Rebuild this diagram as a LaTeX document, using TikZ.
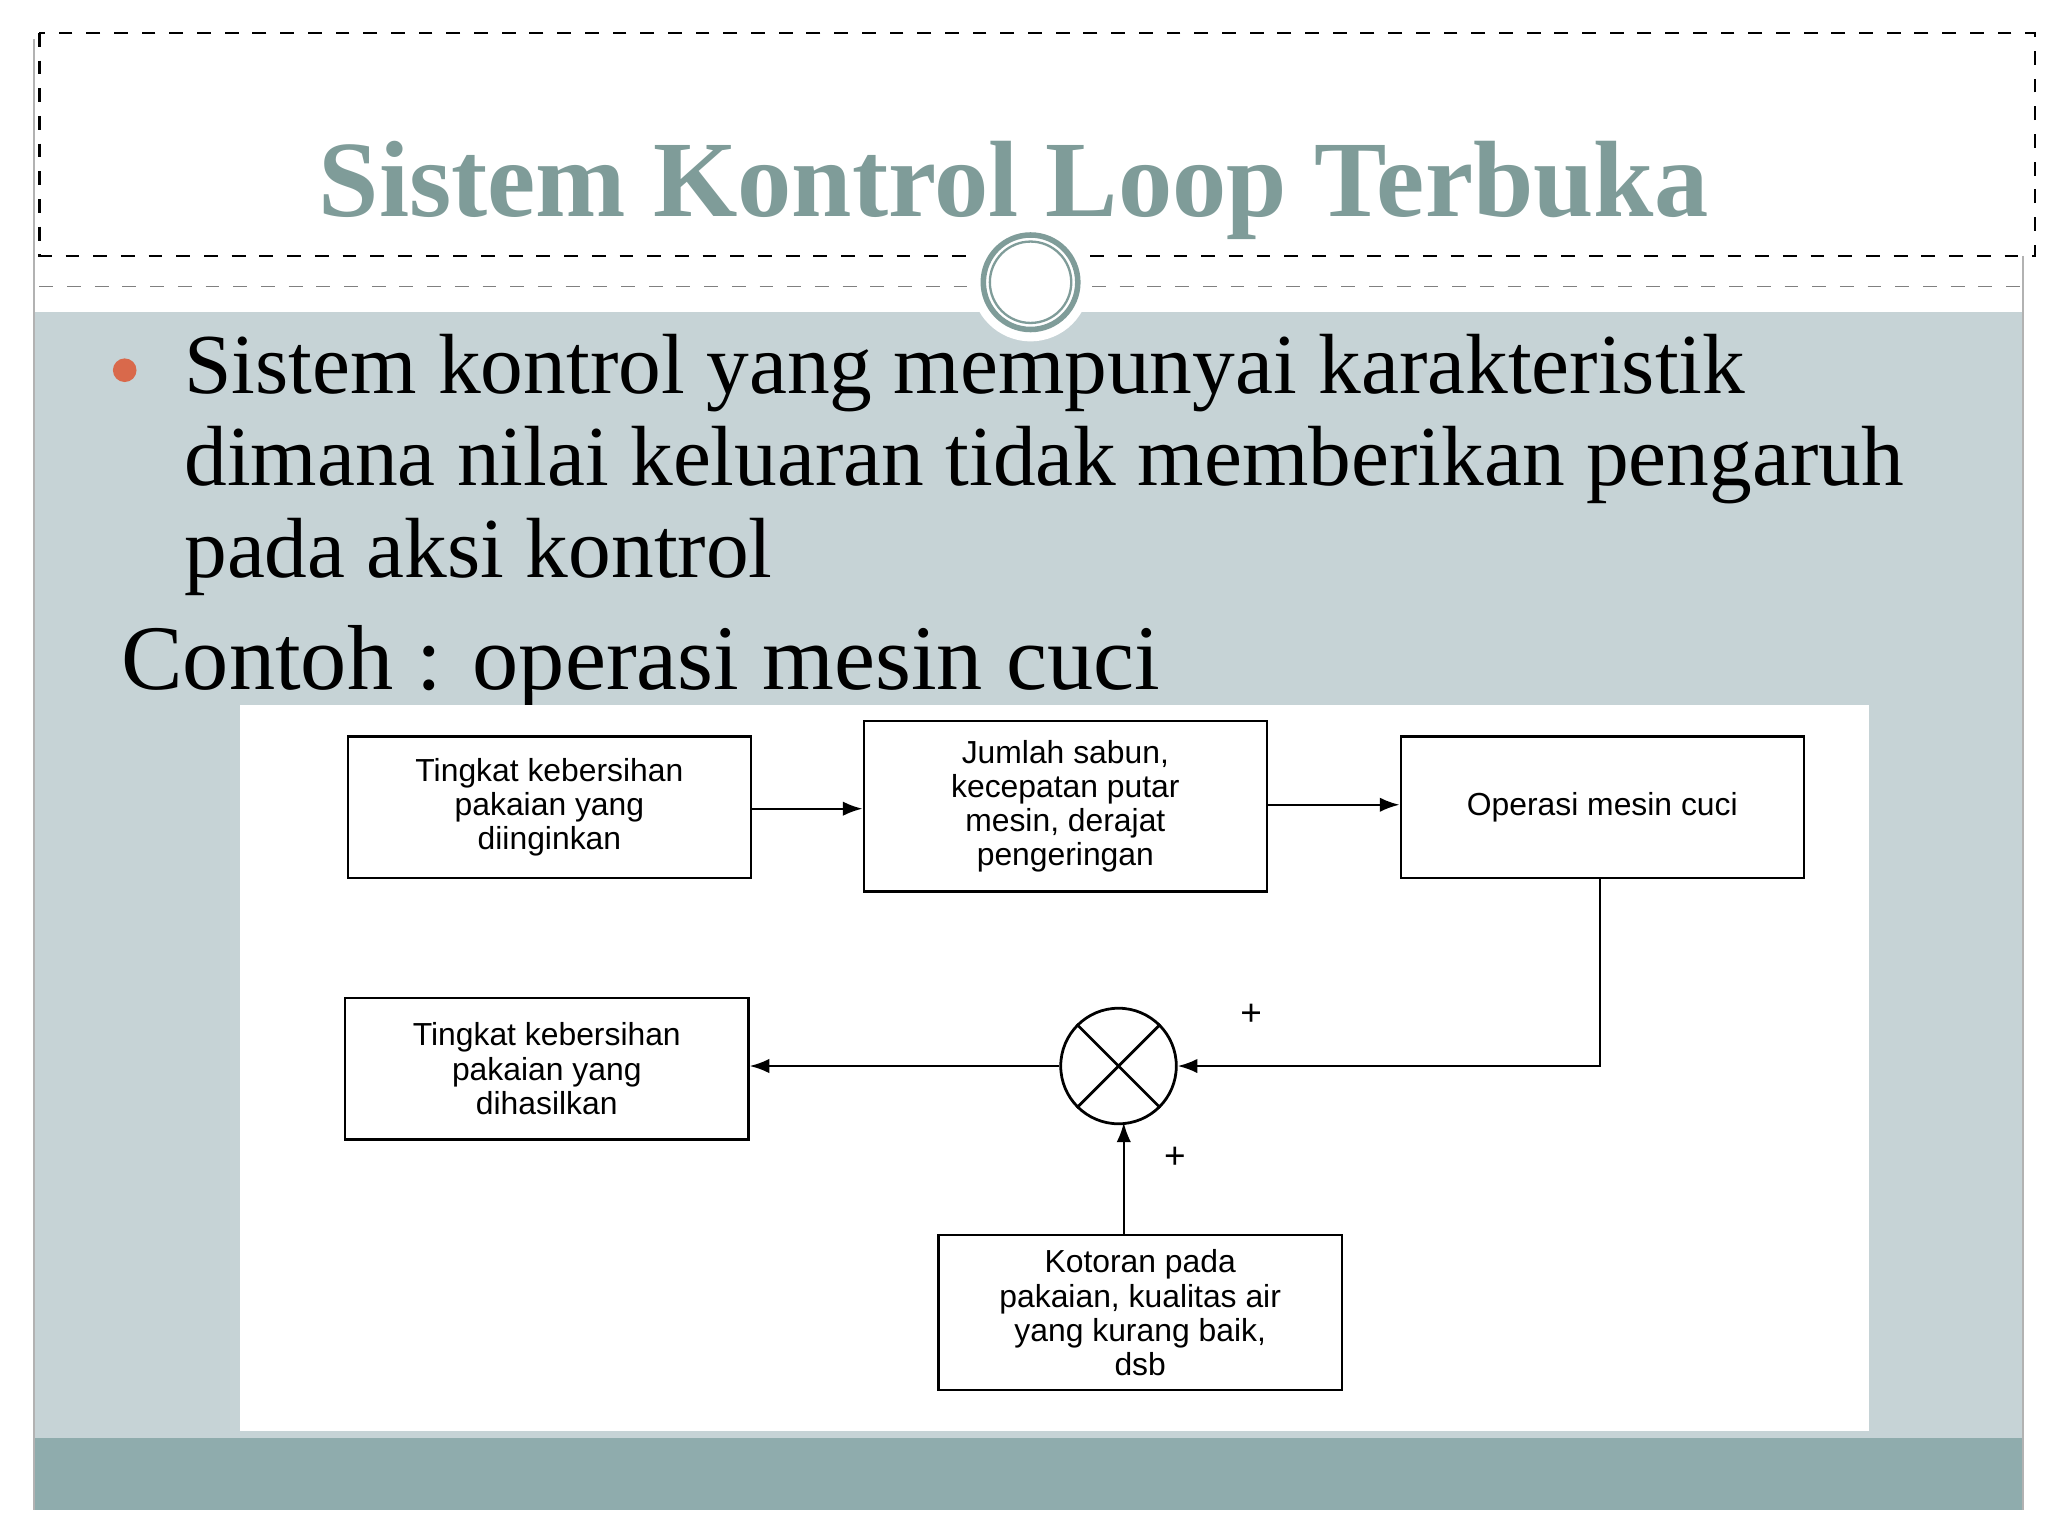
\documentclass[tikz,border=0pt]{standalone}
\usepackage{fontspec}
\setmainfont{Liberation Serif}
\newfontfamily\diag{Liberation Sans}
\usetikzlibrary{arrows.meta}
\definecolor{bodybg}{HTML}{C6D3D6}
\definecolor{band}{HTML}{8FACAD}
\definecolor{titlec}{HTML}{7F9C99}
\definecolor{bul}{HTML}{D9694B}
\tikzset{blk/.style={draw,line width=0.5pt,minimum width=3.07cm,align=center,font=\diag\fontsize{6.9}{7.4}\selectfont,inner sep=1pt},
arr/.style={-{Latex[length=1.5mm,width=1.1mm]},line width=0.5pt},
body/.style={anchor=base west,font=\fontsize{18.5}{20}\selectfont}}
\begin{document}
\begin{tikzpicture}[x=0.01cm,y=-0.01cm]
\useasboundingbox (0,0) rectangle (1560,1170);
\fill[white] (0,0) rectangle (1560,1170);
\fill[bodybg] (26,238) rectangle (1541,1095);
\fill[band] (26,1095) rectangle (1541,1150);
\draw[gray!60,line width=0.4pt] (26,30) -- (26,1150) (1541,195) -- (1541,1150);
\draw[dashed,line width=0.5pt] (30,25) rectangle (1550,195);
\draw[dashed,gray,line width=0.3pt] (30,218) -- (1540,218);
\fill[white] (785,215) circle (45);
\draw[titlec,line width=1.2pt] (785,215) circle (36);
\draw[titlec,line width=0.5pt] (785,215) circle (31);
\node[font=\bfseries\fontsize{23.5}{25}\selectfont,text=titlec] (title) at (772,145) {Sistem Kontrol Loop Terbuka};
\fill[bul] (95,282) circle (9);
\node[body] (l1) at (128,300) {Sistem kontrol yang mempunyai karakteristik};
\node[body] (l2) at (128,370) {dimana nilai keluaran tidak memberikan pengaruh};
\node[body] (l3) at (128,440) {pada aksi kontrol};
\node[body,font=\fontsize{20}{22}\selectfont] (l4) at (80,525) {Contoh : operasi mesin cuci};
\fill[white] (183,537) rectangle (1424,1090);
\node[blk,minimum height=1.08cm] (b1) at (418.5,615) {Tingkat kebersihan\\pakaian yang\\diinginkan};
\node[blk,minimum height=1.30cm] (b2) at (811.5,614) {Jumlah sabun,\\kecepatan putar\\mesin, derajat\\pengeringan};
\node[blk,minimum height=1.08cm] (b3) at (1220.5,615) {Operasi mesin cuci};
\node[blk,minimum height=1.08cm] (b4) at (416.5,814) {Tingkat kebersihan\\pakaian yang\\dihasilkan};
\node[blk,minimum height=1.18cm] (b5) at (868.5,1000) {Kotoran pada\\pakaian, kualitas air\\yang kurang baik,\\dsb};
\node[draw,circle,minimum size=0.88cm,inner sep=0,line width=0.6pt] (s) at (852,812) {};
\draw[line width=0.6pt] (s.north west) -- (s.south east) (s.north east) -- (s.south west);
\coordinate (c) at (1219,812);
\draw[arr] (b1.east |- 0,616) -- (b2.west |- 0,616);
\draw[arr] (b2.east |- 0,613) -- (b3.west |- 0,613);
\draw[arr] (1219,669) -- (c) -- (s.east);
\draw[arr] (s.west) -- (b4.east |- s.west);
\draw[arr] (856,941) -- (856,855);
\node[font=\diag\fontsize{8}{8}\selectfont] (p1) at (953,773) {+};
\node[font=\diag\fontsize{8}{8}\selectfont] (p2) at (895,882) {+};
\end{tikzpicture}
\end{document}
